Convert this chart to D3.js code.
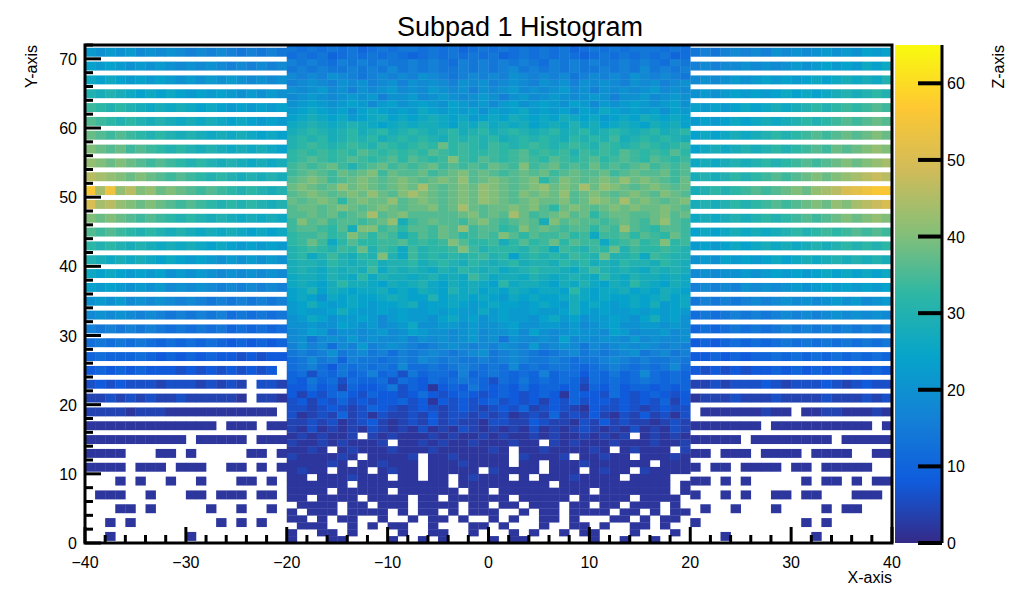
<!DOCTYPE html>
<html><head><meta charset="utf-8">
<script src="https://cdn.jsdelivr.net/npm/d3@7"></script>
<style>body{margin:0;background:#fff}svg{font-family:"Liberation Sans",Arial,sans-serif}</style>
</head><body><div id="chart"></div>
<script>
// cell code: base-36 char * 2 = content, "." = empty bin
const xTicks = [-40, -30, -20, -10, 0, 10, 20, 30, 40];
const yTicks = [0, 10, 20, 30, 40, 50, 60, 70];
const zTicks = [0, 10, 20, 30, 40, 50, 60];

// central region, x = -20..19, 1x1 bins, rows from y = 0 upward
const centerRows = [
"1...11....1..1.1....1.11......1..1..1...",
"1..11.1....1..11..1...1.1..1.11...1...1.",
".111..1.1.11..1...11.1...1..11.1..11.1..",
"11.1.11..1..1.11.1..1.1..11.1...11.1.11.",
"1.111.1111.1.11.1.111..1.11.1111.11.1.11",
".1111.11.111.1111.11.11.111.11.11.111.1.",
"11.1111.1111.11.111111.11111.11111.1111.",
"1111.11111.111111.11.111111111.1111111.1",
"111111.111111111.111111111.11111111111.1",
"11.1112111.11.11.12111.1.11121111.1111.",
"1211.111.1211.11111.21111.111.1211.21111",
"111121.112111.11121111.11.1112111111.111",
"2111121.11112.11211111.21112.11211.11121",
"1121.12111211121111121.112111121.12111.2",
"2112121112.11212112111211.21211121112112",
"1212112.21211121211212112121121212.12121",
"2131212132121312132121213121232121312132",
"2232312342123242322133224322132423221232",
"3123252313223242332323123252324213242313",
"3323432354323432343234352343214334323433",
"3424353434453414343453434243534434343524",
"4243564354434643454345434541544364345434",
"4464525445735414547545464554525464554545",
"5475636556365465676536575656536565676565",
"5636575685637566585676565856646575696565",
"6786476767696676787676967677656787676796",
"6797858776787987877878987787677898787787",
"7878a78978687898789a78987678978789a78978",
"8a89698b89a98789a9898a98b89a97989a9a9898",
"9a79a9b9a99a8a9a9ab9a7a99a9c9a9aa9b9a99a",
"9acb8aa9ab9acbaa9ab9aab9ca9abaa9cb9aab9a",
"aabaacbab9abdaabbabaabcaabbab9abcaabbaba",
"abdcabbcb9bcbbacdbcabcbbacdbcabbcbacebca",
"bcbbcecbbcbcbbcbcbbdbcbbcbbcecbcbbcbcbcb",
"bcecbcdcbccdebccdcbcdccbcdcbecdcbcdcebcd",
"cdcadcdccdedccfcddcdcbdcdccdedcdccdcdecd",
"cdfcedcddecdcedcfdecdcedcddcgdcddecdcedc",
"dedcegeedcedefdcededcgdeedcedfdcedgedced",
"deedfedgdfeedefdedhfdeedfedefedgedfeeded",
"efedfefehdfefedfegfefdefgffedfhfefedfefe",
"effegfefgeffgefgfegfefgeffegfgefegffegfe",
"fgdfhfegfkfdhfgfgfghfgcfgfgfhgfjffgdhgff",
"fghgfhgjfhgdhfgghkhfgggfhgdhgfhgjfhgghgf",
"ghjhdgigghhighghkigghegighjgihhdghighkgh",
"ghhighkigihegihjighihkigihhighdhhigihgjh",
"hiihgiekkhigiihjilhiighkijihiigihlihgiih",
"hkijhiihijlehijiihjkihijiekijiihijihjlih",
"iijijhijmijkiiiiijkijimjhijkijgijjiijkij",
"ijjijkjijkjijjkijmjijjkjkigjkjijkjkjjkji",
"jijkjgjkjjlijkjijkjlkjijkjjkijlkjmjkjijk",
"ijkjijkjljikmkjijkjlkjikjkjlijkjijkjikji",
"jkjijljkjijkjmjijkjlkjijkljkjmjlkjijkjij",
"ijkjhijkjijkjijkjlijkjijkgikjijkjljkjihj",
"hijihjijkhjiijhijkijihijijhijiijhijiijhi",
"hihijhfhijhihijhihihjihkhijhihjhihijhihi",
"ghihghihghigihghkhgihghihgihghighihgihgh",
"ghghghgihghghgihghgghghighghfhghgihghgig",
"fghgfghgfhgfghgjghgfhgfghgfghgfhgfghgfgh",
"fgfgefgfgefgfgfegfgfgefgfgfegfgfhefgfgfe",
"efgfefgefgefgfefgefgefgfefgefgefgfefgefg",
"defedefedcdedeedcedfdedecdedfdecdedcedec",
"cdedcdbcdecdcdedcdbcdcedcdcedcdbcdcedcdc",
"bcdcbcacdcbcbdcbcbcacbcdbcbcacbdcbcbcacb",
"abcbabcb9bcabcbacbab9bcabcbacb9babcbabca",
"9aba9abab8aab9aba9aba8ab9aba9aba8aab9aba",
"a9ab9a8a9ab9a9ba9a8a9ab9a9ab9a8a9a9ab9a9",
"89a98a9a89a8a9a98a9a89a98a9a8a9a98a9a89a",
"9898a98789898a98789898a98989789898a98987",
"7878778787978787787878978787877878797878",
"8787687878778787687878787687878778787687",
"6767567676765676767675676767656767676756",
"7676767567677676756767676767567676777676"
];

// outer regions, x = -40..-21 and 20..39, 1x2 bins, rows from y = 0 upward
const leftRows = [
"..1.......1.........","..1.1........1.1.1..","...11.1.....1..1..1.",".111..1...11.111.11.",
"...1.1..1..1...11.1.","1111.111.111..11.1.1","1111...11.1.....11.1","1111111111.11111.111",
"1111111111111.111.11","2222122211111111111.","2232323223222221.221","3434333233323232.332",
"4545454443434343434.","56555654545454434344","67676765656565454545","87878787676767565656",
"9a9a9898787878676767","abab9a9a989878787878","cbcbabab9a9a98989898","dcdcbcbcababa9a9a9a9",
"fedededcdcbcbabababa","gfgfefedededcdcbcbcb","ihihgfgfefedededcdcd","kjkjihihgfgfefededed",
"pmnlkjkjihihgfgfgfef","smrlnkljkjihihgfgfef","nmlkjkjihihgfgfefefe","lkjkjihihgfgfefedede",
"kjijhihgfgfefedededc","jihihgfgfefedededcdc","ihgfgfefedededcdcbcb","hgfgfedededcdcbcbcbc",
"fefedcdcdcbcbcbababa","dcdcbcbcbabababa9a9a","cbcbababa9a9a9898989","babab9a9a98989878787"
];
const rightRows = [
"...1........1.......","1..........1.1......",".1..1...1....1.11...","1..1.1..11.11...111.",
"11.1.1.....1.11.1.11","1.11.1111.11.11111..","11.111.1111.1111..11","11111.11111111.11111",
"1111111.1111111111.1",".111111211.112211121","12223222322223222323","22323334323334323433",
"43434344545454545454","44545455656565656565","45456565676767676767","56567676787878787878",
"67678787898989a9a9a9","787878989a9a9abab9ab","89898a9a9ababcbcbcbc","9a9aababcbcbcdcdcdcd",
"abacbcbcdcdedefefefe","bcbcdcdededefefgfgfg","cdcdededefgfghghihih","dedefefgfghihijkjklk",
"efefgfghihijkjlkmnop","efgfghihijkjlmnpqrss","efefgfghihijkjklmnon","dedefefgfghihijkjklm",
"cdedefefgfghihjijklk","cdcdedefgfghihijijkj","bcbcdcdedefgfghihiji","cbcbcdcdedefgfghghih",
"ababcbcbcdcdcdefefgf","9a9ababcbcbcdcdededf","89899a9a9ababcbcbdcd","78789898a9a9ababacbc"
];

const W = 1024, H = 602;
const plot = { left: 85, right: 892, top: 45, bottom: 543 };
const bar = { left: 895, right: 942 };

const x = d3.scaleLinear().domain([-40, 40]).range([plot.left, plot.right]);
const y = d3.scaleLinear().domain([0, 72]).range([plot.bottom, plot.top]);
const zMax = 65;
const z = d3.scaleLinear().domain([0, zMax]).range([plot.bottom, plot.top]);

// ROOT kBird palette
const birdStops = [
  [0.2082, 0.1664, 0.5293], [0.0592, 0.3599, 0.8684], [0.0780, 0.5041, 0.8385],
  [0.0232, 0.6419, 0.7914], [0.1802, 0.7178, 0.6425], [0.5301, 0.7492, 0.4662],
  [0.8186, 0.7328, 0.3499], [0.9956, 0.7862, 0.1968], [0.9764, 0.9832, 0.0539]
].map(c => d3.rgb(c[0] * 255, c[1] * 255, c[2] * 255).formatHex());
const bird = d3.scaleLinear()
  .domain(birdStops.map((_, i) => i / (birdStops.length - 1) * zMax))
  .range(birdStops).interpolate(d3.interpolateRgb).clamp(true);

const cells = [];
function addRows(rows, x0, binH, drawOff, drawH) {
  rows.forEach((row, j) => {
    for (let i = 0; i < 40 && i < row.length; i++) {
      const ch = row[i];
      if (ch === ".") continue;
      const v = parseInt(ch, 36) * 2;
      if (!(v > 0)) continue;
      cells.push({ x0: x0 + i, y0: j * binH + drawOff, h: drawH, v });
    }
  });
}
addRows(centerRows, -20, 1, 0, 1);
addRows(leftRows, -40, 2, 0.35, 1.25);
addRows(rightRows, 20, 2, 0.35, 1.25);

const svg = d3.select("#chart").append("svg").attr("width", W).attr("height", H);

svg.append("g").selectAll("rect").data(cells).enter().append("rect")
  .attr("x", d => x(d.x0))
  .attr("y", d => y(d.y0 + d.h))
  .attr("width", x(1) - x(0) + 0.3)
  .attr("height", d => y(d.y0) - y(d.y0 + d.h) + 0.3)
  .attr("fill", d => bird(d.v));

// frame
svg.append("rect").attr("x", plot.left).attr("y", plot.top)
  .attr("width", plot.right - plot.left).attr("height", plot.bottom - plot.top)
  .attr("fill", "none").attr("stroke", "#000").attr("stroke-width", 3);

// ticks inside frame
const ax = svg.append("g").attr("stroke", "#000").attr("stroke-width", 3);
d3.range(-40, 41, 2).forEach(t => {
  const len = t % 10 === 0 ? 16 : 8;
  ax.append("line").attr("x1", x(t)).attr("x2", x(t))
    .attr("y1", plot.bottom).attr("y2", plot.bottom - len);
});
d3.range(0, 73, 2).forEach(t => {
  const len = t % 10 === 0 ? 16 : 8;
  ax.append("line").attr("x1", plot.left).attr("x2", plot.left + len)
    .attr("y1", y(t)).attr("y2", y(t));
});

svg.append("g").selectAll("text").data(xTicks).enter().append("text")
  .attr("x", d => x(d)).attr("y", plot.bottom + 25)
  .attr("text-anchor", "middle").attr("font-size", 16)
  .text(d => d < 0 ? "\u2212" + Math.abs(d) : d);
svg.append("g").selectAll("text").data(yTicks).enter().append("text")
  .attr("x", plot.left - 8).attr("y", d => y(d) + 6)
  .attr("text-anchor", "end").attr("font-size", 16).text(d => d);

// colour bar
const grad = svg.append("defs").append("linearGradient").attr("id", "zgrad")
  .attr("x1", 0).attr("y1", 1).attr("x2", 0).attr("y2", 0);
birdStops.forEach((c, i) => grad.append("stop")
  .attr("offset", i / (birdStops.length - 1)).attr("stop-color", c));
svg.append("rect").attr("x", bar.left).attr("y", plot.top)
  .attr("width", bar.right - bar.left).attr("height", plot.bottom - plot.top)
  .attr("fill", "url(#zgrad)");
svg.append("line").attr("x1", bar.right).attr("x2", bar.right)
  .attr("y1", plot.top).attr("y2", plot.bottom)
  .attr("stroke", "#000").attr("stroke-width", 3);
svg.append("g").selectAll("line").data(zTicks).enter().append("line")
  .attr("x1", bar.right - 24).attr("x2", bar.right)
  .attr("y1", d => z(d)).attr("y2", d => z(d))
  .attr("stroke", "#000").attr("stroke-width", 4);
svg.append("g").selectAll("text").data(zTicks).enter().append("text")
  .attr("x", bar.right + 5).attr("y", d => z(d) + 6)
  .attr("font-size", 16).text(d => d);

// titles
svg.append("text").attr("x", 520).attr("y", 36).attr("text-anchor", "middle")
  .attr("font-size", 27).text("Subpad 1 Histogram");
svg.append("text").attr("x", plot.right).attr("y", 583).attr("text-anchor", "end")
  .attr("font-size", 16).text("X-axis");
svg.append("text").attr("transform", `translate(37,${plot.top}) rotate(-90)`)
  .attr("text-anchor", "end").attr("font-size", 16).text("Y-axis");
svg.append("text").attr("transform", `translate(1004,${plot.top}) rotate(-90)`)
  .attr("text-anchor", "end").attr("font-size", 16).text("Z-axis");
</script></body></html>
